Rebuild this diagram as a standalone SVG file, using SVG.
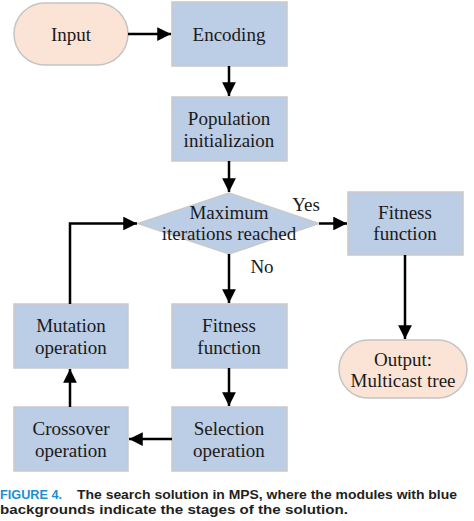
<svg xmlns="http://www.w3.org/2000/svg" width="474" height="521" viewBox="0 0 474 521">
<defs>
<style>
.box{fill:#bccde6;stroke:#c9c9c9;stroke-width:1.5}
.term{fill:#fbe4d5;stroke:#c4c4c4;stroke-width:1.5}
.t{font-family:"Liberation Serif","Times New Roman",serif;font-size:19px;fill:#1a1a1a;text-anchor:middle}
.ln{fill:none;stroke:#000;stroke-width:2.5}
.cap{font-family:"Liberation Sans",Arial,sans-serif;font-size:12.5px;font-weight:bold;fill:#231f20}
.fig{fill:#1b8fd2}
</style>
<marker id="ah" viewBox="0 0 10 10" refX="10" refY="5" markerWidth="6" markerHeight="5.5" markerUnits="strokeWidth" orient="auto">
<path d="M0,0 L10,5 L0,10 Z" fill="#000"/>
</marker>
</defs>
<rect width="474" height="521" fill="#fff"/>
<g id="input"><rect class="term" x="14" y="3" width="114" height="62" rx="31"/><text class="t" x="71" y="41">Input</text></g>
<g id="encoding"><rect class="box" x="172" y="2" width="115" height="64"/><text class="t" x="229" y="41">Encoding</text></g>
<g id="population"><rect class="box" x="172" y="97" width="115" height="64"/><text class="t" x="229" y="125">Population</text><text class="t" x="229" y="147">initializaion</text></g>
<g id="decision"><polygon class="box" points="229,193 319,223.5 229,254 138,223.5"/><text class="t" x="229" y="219">Maximum</text><text class="t" x="229" y="240">iterations reached</text></g>
<g id="fitness-right"><rect class="box" x="348" y="192" width="115" height="63"/><text class="t" x="405" y="219">Fitness</text><text class="t" x="405" y="240">function</text></g>
<g id="output"><rect class="term" x="339" y="340" width="128" height="58" rx="29"/><text class="t" x="403" y="366">Output:</text><text class="t" x="403" y="387">Multicast tree</text></g>
<g id="fitness-mid"><rect class="box" x="172" y="304" width="115" height="64"/><text class="t" x="229" y="332">Fitness</text><text class="t" x="229" y="354">function</text></g>
<g id="mutation"><rect class="box" x="14" y="304" width="114" height="64"/><text class="t" x="71" y="332">Mutation</text><text class="t" x="71" y="354">operation</text></g>
<g id="selection"><rect class="box" x="172" y="407" width="115" height="64"/><text class="t" x="229" y="435">Selection</text><text class="t" x="229" y="457">operation</text></g>
<g id="crossover"><rect class="box" x="14" y="407" width="114" height="64"/><text class="t" x="71" y="435">Crossover</text><text class="t" x="71" y="457">operation</text></g>
<g id="connectors">
<line class="ln" x1="128" y1="34" x2="171" y2="34" marker-end="url(#ah)"/>
<line class="ln" x1="229" y1="66" x2="229" y2="96" marker-end="url(#ah)"/>
<line class="ln" x1="229" y1="161" x2="229" y2="192" marker-end="url(#ah)"/>
<line class="ln" x1="319" y1="223.5" x2="347" y2="223.5" marker-end="url(#ah)"/>
<line class="ln" x1="405" y1="255" x2="405" y2="339" marker-end="url(#ah)"/>
<line class="ln" x1="229" y1="254" x2="229" y2="303" marker-end="url(#ah)"/>
<line class="ln" x1="229" y1="368" x2="229" y2="406" marker-end="url(#ah)"/>
<line class="ln" x1="172" y1="439" x2="129" y2="439" marker-end="url(#ah)"/>
<line class="ln" x1="70" y1="407" x2="70" y2="369" marker-end="url(#ah)"/>
<polyline class="ln" points="70,304 70,223.5 137,223.5" marker-end="url(#ah)"/>
<text class="t" x="306" y="211">Yes</text>
<text class="t" x="262" y="273">No</text>
</g>
<g id="caption">
<text class="cap fig" x="0" y="499" textLength="62" lengthAdjust="spacingAndGlyphs">FIGURE 4.</text>
<text class="cap" x="77" y="499" textLength="380" lengthAdjust="spacingAndGlyphs">The search solution in MPS, where the modules with blue</text>
<text class="cap" x="0" y="514" textLength="348" lengthAdjust="spacingAndGlyphs">backgrounds indicate the stages of the solution.</text>
</g>
</svg>
